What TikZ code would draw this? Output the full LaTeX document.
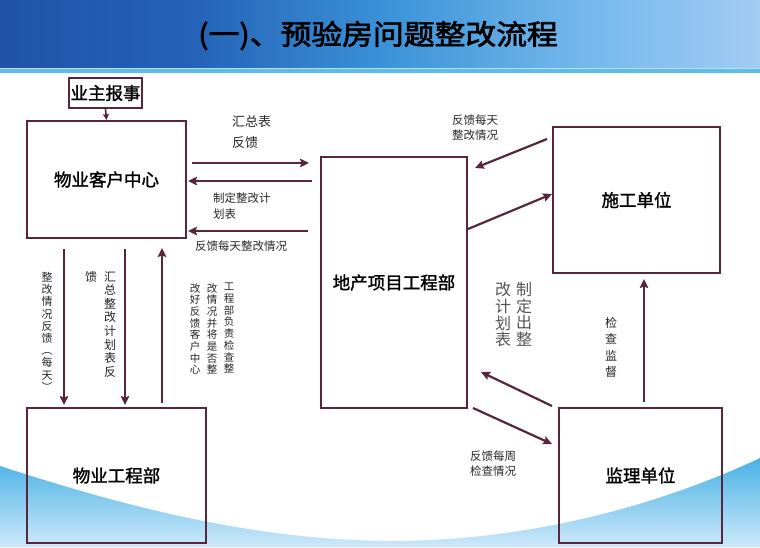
\documentclass[tikz,border=0pt]{standalone}
\usepackage{fontspec}
\setmainfont{Noto Sans CJK SC}
\newfontfamily\cjk{Noto Sans CJK SC}
\newfontfamily\cjkb[FakeBold=1.5]{Noto Sans CJK SC}
\newfontfamily\cjkt[FakeBold=2.2]{Noto Sans CJK SC}
\usetikzlibrary{arrows.meta}
\definecolor{lc}{RGB}{88,38,58}
\definecolor{h1}{RGB}{33,83,168}
\definecolor{h2}{RGB}{36,98,182}
\definecolor{h3}{RGB}{58,145,215}
\definecolor{h4}{RGB}{112,182,235}
\definecolor{h5}{RGB}{162,204,243}
\definecolor{stripe}{RGB}{95,188,232}
\definecolor{stripetop}{RGB}{180,225,246}
\definecolor{wavetop}{RGB}{72,178,230}
\definecolor{wavebot}{RGB}{205,232,249}
\definecolor{greytxt}{RGB}{85,85,85}
\pgfdeclarehorizontalshading{hdr}{100bp}{color(0bp)=(h1); color(25bp)=(h1); color(37.5bp)=(h2); color(50bp)=(h3); color(62.5bp)=(h4); color(75bp)=(h5); color(100bp)=(h5)}
\begin{document}
\begin{tikzpicture}[x=1pt,y=-1pt,
  box/.style={draw=lc, line width=2pt, inner sep=0pt, font=\cjkb\fontsize{17.5}{20}\selectfont},
  arr/.style={draw=lc, line width=2.2pt, -{Stealth[length=9pt,width=8.5pt,inset=1.5pt]}},
  lab/.style={font=\cjk\fontsize{11.5}{14}\selectfont, text=black!85, inner sep=0pt, align=left},
  vcol/.style={inner sep=0pt, align=center, anchor=north, text=black!85},
]
\useasboundingbox (0,0) rectangle (760,547);
% background
\fill[white] (0,0) rectangle (760,547);
\shade[shading=hdr] (0,0) rectangle (760,67.5);
\fill[stripe] (0,67.5) rectangle (760,73);
\fill[stripetop] (0,67.5) rectangle (760,69);
\shade[top color=wavetop, bottom color=wavebot]
  (0,466) .. controls (120,505) and (250,540) .. (390,541)
  .. controls (530,541) and (660,505) .. (760,458) -- (760,547) -- (0,547) -- cycle;
% title
\node[font=\cjkt\fontsize{28}{30}\selectfont, text=black] (title) at (378,35.5)
  {\scalebox{1.1}[1]{(一)、预验房问题整改流程}};
% boxes
\node[box, minimum width=73pt, minimum height=30pt] (owner) at (105.5,93) {业主报事};
\node[box, minimum width=159pt, minimum height=117pt] (cust) at (106.5,179.5) {物业客户中心};
\node[box, minimum width=146pt, minimum height=251pt] (dev) at (394,282.5) {地产项目工程部};
\node[box, minimum width=167pt, minimum height=146pt] (cons) at (636.5,200) {施工单位};
\node[box, minimum width=179pt, minimum height=135pt] (peng) at (116.5,475.5) {物业工程部};
\node[box, minimum width=163pt, minimum height=135pt] (sup) at (640.5,475.5) {监理单位};
% arrow end points
\coordinate (a2s) at (192,163); \coordinate (a2e) at (309,163);
\coordinate (a3s) at (312,181); \coordinate (a3e) at (188,181);
\coordinate (a4s) at (308,231); \coordinate (a4e) at (188,231);
\coordinate (a5s) at (64,249);  \coordinate (a5e) at (64,405);
\coordinate (a6s) at (125,249); \coordinate (a6e) at (125,405);
\coordinate (a7s) at (162,403); \coordinate (a7e) at (162,248);
\coordinate (a8s) at (547,139); \coordinate (a8e) at (475,168);
\coordinate (a9s) at (468,229); \coordinate (a9e) at (552,194);
\coordinate (a10s) at (644,402); \coordinate (a10e) at (644,279);
\coordinate (a11s) at (552,406); \coordinate (a11e) at (481,372);
\coordinate (a12s) at (473,408); \coordinate (a12e) at (552,444);
% arrows
\draw[draw=lc, line width=1.6pt, -{Stealth[length=6pt,width=6pt,inset=1pt]}] (owner.south) -- (cust.north);
\draw[arr] (a2s) -- (a2e);
\draw[arr] (a3s) -- (a3e);
\draw[arr] (a4s) -- (a4e);
\draw[arr] (a5s) -- (a5e);
\draw[arr] (a6s) -- (a6e);
\draw[arr] (a7s) -- (a7e);
\draw[arr] (a8s) -- (a8e);
\draw[arr] (a9s) -- (a9e);
\draw[arr] (a10s) -- (a10e);
\draw[arr] (a11s) -- (a11e);
\draw[arr] (a12s) -- (a12e);
% horizontal labels
\node[lab, font=\cjk\fontsize{13}{21}\selectfont, anchor=north west] (l1) at (232,115) {汇总表\\反馈};
\node[lab, font=\cjk\fontsize{11.5}{16}\selectfont, anchor=north west] (l2) at (213,193) {制定整改计\\划表};
\node[lab, font=\cjk\fontsize{11.5}{14}\selectfont, anchor=north west] (l3) at (195,241) {反馈每天整改情况};
\node[lab, font=\cjk\fontsize{11.5}{14.5}\selectfont, anchor=north west] (l4) at (452,115) {反馈每天\\整改情况};
\node[lab, font=\cjk\fontsize{11.5}{15}\selectfont, anchor=north west] (l5) at (470,451) {反馈每周\\检查情况};
% vertical labels
\node[vcol, font=\cjk\fontsize{11}{12.2}\selectfont] (v1) at (47,272) {整\\改\\情\\况\\反\\馈\\︵\\每\\天\\︶};
\node[vcol, font=\cjk\fontsize{12}{13.6}\selectfont] (v2) at (110,271) {汇\\总\\整\\改\\计\\划\\表\\反};
\node[vcol, font=\cjk\fontsize{12}{13.6}\selectfont] (v2b) at (91,271) {馈};
\node[vcol, font=\cjk\fontsize{10.5}{11.7}\selectfont] (v3a) at (229,283) {工\\程\\部\\负\\责\\检\\查\\整};
\node[vcol, font=\cjk\fontsize{10.5}{11.7}\selectfont] (v3b) at (212,283) {改\\情\\况\\并\\将\\是\\否\\整};
\node[vcol, font=\cjk\fontsize{10.5}{11.7}\selectfont] (v3c) at (195,283) {改\\好\\反\\馈\\客\\户\\中\\心};
\node[vcol, font=\cjk\fontsize{16}{16.7}\selectfont, text=greytxt] (v4a) at (524,282) {制\\定\\出\\整};
\node[vcol, font=\cjk\fontsize{16}{16.7}\selectfont, text=greytxt] (v4b) at (503,282) {改\\计\\划\\表};
\node[vcol, font=\cjk\fontsize{12}{16.5}\selectfont] (v5) at (611,317) {检\\查\\监\\督};
\end{tikzpicture}
\end{document}
